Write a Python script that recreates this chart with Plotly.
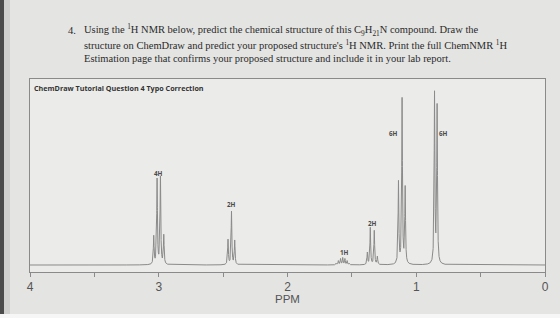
import numpy as np
import plotly.graph_objects as go

# ---- data (ppm, relative intensity) ----
q_ppm = [3.039, 3.013, 2.987, 2.961]          # 4H quartet
q_int = [28, 85, 87, 29]
t1_ppm = [2.462, 2.435, 2.410]                # 2H triplet
t1_int = [25, 53, 24]
m1_ppm = [1.622, 1.605, 1.588, 1.571, 1.554, 1.537, 1.521]   # 1H multiplet
m1_int = [1.5, 4, 6, 7, 6, 4, 1.5]
m2_ppm = [1.380, 1.357, 1.326, 1.302]         # 2H multiplet
m2_int = [12, 37, 34, 8]
t2_ppm = [1.138, 1.110, 1.086]                # 6H triplet
t2_int = [82, 165, 76]
d_ppm = [0.858, 0.838]                        # 6H doublet
d_int = [170, 157]

label_text = ["4H", "2H", "1H", "2H", "6H", "6H"]
label_ppm = [3.00, 2.435, 1.56, 1.34, 1.175, 0.79]
label_y = [92, 61, 13, 42, 132, 132]

tick_vals = [4, 3, 2, 1, 0]
tick_text = ["4", "3", "2", "1", "0"]

question_lines = [
    "Using the <sup>1</sup>H NMR below, predict the chemical structure of this C<sub>9</sub>H<sub>21</sub>N compound. Draw the",
    "structure on ChemDraw and predict your proposed structure's <sup>1</sup>H NMR. Print the full ChemNMR <sup>1</sup>H",
    "Estimation page that confirms your proposed structure and include it in your lab report.",
]
panel_title = "ChemDraw Tutorial Question 4 Typo Correction"

# ---- spectrum from the peak list (Lorentzian line shape) ----
all_ppm = np.array(q_ppm + t1_ppm + m1_ppm + m2_ppm + t2_ppm + d_ppm)
all_int = np.array(q_int + t1_int + m1_int + m2_int + t2_int + d_int, dtype=float)
gamma = 0.0033
x = np.unique(np.concatenate([np.arange(0, 4.0001, 0.0002), all_ppm]))
y = np.zeros_like(x)
for p, h in zip(all_ppm, all_int):
    y += h / (1 + ((x - p) / gamma) ** 2)

W, H = 560, 318
L, R, T, B = 30, 15, 79, 46
pw, ph = W - L - R, H - T - B

def px(xp):
    return (xp - L) / pw

def py(yp):
    return (H - B - yp) / ph

fig = go.Figure()
fig.add_trace(go.Scatter(x=x, y=y, mode="lines",
                         line=dict(color="#8a8a8a", width=1),
                         hoverinfo="skip", showlegend=False))

shapes = [
    # photo edge on the left
    dict(type="rect", xref="paper", yref="paper", x0=px(0), x1=px(4), y0=py(318), y1=py(0),
         fillcolor="#4a4a4a", line=dict(width=0), layer="below"),
    dict(type="rect", xref="paper", yref="paper", x0=px(4), x1=px(10), y0=py(318), y1=py(0),
         fillcolor="#cfcfcd", line=dict(width=0), layer="below"),
    # panel
    dict(type="rect", xref="paper", yref="paper", x0=0, x1=1, y0=0, y1=1,
         fillcolor="#ebebe9", line=dict(width=0), layer="below"),
    # bright strip at bottom of photo
    dict(type="rect", xref="paper", yref="paper", x0=px(0), x1=px(560), y0=py(318), y1=py(314),
         fillcolor="#f6f6f6", line=dict(width=0), layer="below"),
]

ann = []
ann.append(dict(text="4.", xref="paper", yref="paper", x=px(66), y=py(30),
                xanchor="left", yanchor="middle", showarrow=False,
                font=dict(family="Liberation Serif", size=10.5, color="#2a2a2a")))
for i, line in enumerate(question_lines):
    ann.append(dict(text=line, xref="paper", yref="paper", x=px(82), y=py(30 + 14 * i),
                    xanchor="left", yanchor="middle", showarrow=False,
                    font=dict(family="Liberation Serif", size=10.5, color="#2a2a2a")))
ann.append(dict(text="<b>" + panel_title + "</b>", xref="paper", yref="paper", x=px(32), y=py(88),
                xanchor="left", yanchor="middle", showarrow=False,
                font=dict(family="Open Sans", size=7.2, color="#333333")))
for t, xv, yv in zip(label_text, label_ppm, label_y):
    ann.append(dict(text="<b>" + t + "</b>", x=xv, y=yv, xref="x", yref="y",
                    showarrow=False, font=dict(family="Open Sans", size=6.3, color="#4a4a4a")))
ann.append(dict(text="PPM", x=2, y=py(299), xref="x", yref="paper", showarrow=False,
                yanchor="middle", font=dict(family="Liberation Sans", size=11.5, color="#555555")))

fig.update_layout(
    width=W, height=H,
    margin=dict(l=L, r=R, t=T, b=B, pad=0),
    paper_bgcolor="#e4e4e2",
    plot_bgcolor="rgba(0,0,0,0)",
    shapes=shapes,
    annotations=ann,
    xaxis=dict(range=[4, 0], showgrid=False, zeroline=False,
               showline=True, linecolor="#8a8a8a", linewidth=1, mirror=True,
               ticks="outside", ticklen=4, tickcolor="#8a8a8a",
               tickvals=tick_vals, ticktext=tick_text,
               minor=dict(dtick=0.5, ticks="outside", ticklen=4, tickcolor="#8a8a8a"),
               tickfont=dict(family="Liberation Sans", size=12, color="#555555")),
    yaxis=dict(range=[-7, 186], showgrid=False, zeroline=False,
               showline=True, linecolor="#8a8a8a", linewidth=1, mirror=True,
               showticklabels=False, ticks=""),
)

fig.write_html("out.html")
